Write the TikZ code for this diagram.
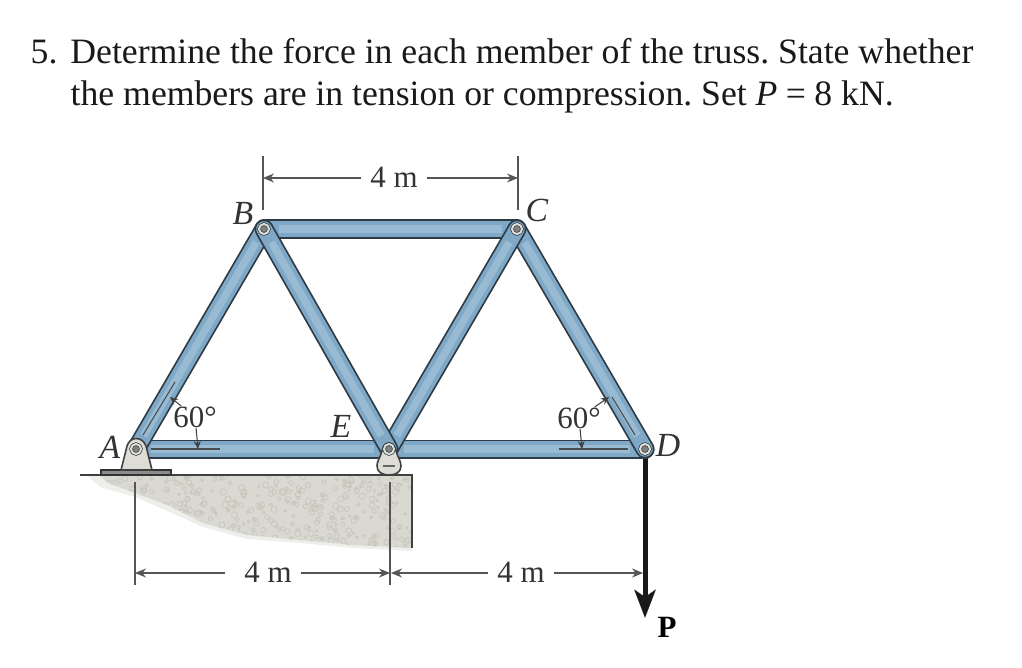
\documentclass[tikz,border=0pt]{standalone}
\usepackage{fontspec}
\setmainfont{Liberation Serif}
\usetikzlibrary{arrows.meta,calc}
\definecolor{memberblue}{HTML}{7FA8C7}
\definecolor{memberlight}{HTML}{98BAD3}
\definecolor{memberdark}{HTML}{2E3B45}
\definecolor{groundgray}{HTML}{D9D9D1}
\definecolor{grounddot}{HTML}{C6C6BC}
\definecolor{supportgray}{HTML}{DDDDD6}
\definecolor{dimgray}{HTML}{555555}
\tikzset{
 title/.style={anchor=base west,inner sep=0pt,font=\fontsize{10.15}{12}\selectfont\frenchspacing,text=black!90},
 textlabel/.style={inner sep=0pt,font=\fontsize{8.8}{10}\selectfont,text=black!80},
 letterlabel/.style={inner sep=0pt,font=\fontsize{9.6}{10}\selectfont,text=black!80},
 dimline/.style={draw=dimgray,line width=0.3pt,-{Stealth[length=1.1mm,width=0.9mm]}},
 extline/.style={draw=dimgray,line width=0.3pt},
 anglemark/.style={draw=black!75,line width=0.3pt,-{Stealth[length=0.8mm,width=0.7mm]}},
 pin/.style={circle,draw=memberdark,double=supportgray,double distance=0.2mm,fill=black!50,line width=0.2pt,minimum size=1mm,inner sep=0pt},
 memberedge/.style={draw=memberdark,line width=1.9mm,line cap=round},
 memberfill/.style={draw=memberblue,line width=1.55mm,line cap=round},
 membershine/.style={draw=memberlight,line width=0.75mm}
}
\newcommand{\member}[2]{
 \draw[memberedge] (#1) -- (#2);
 \draw[memberfill] (#1) -- (#2);
 \draw[membershine] ($(#1)!0.06!(#2)$) -- ($(#1)!0.94!(#2)$);
}
\begin{document}
\begin{tikzpicture}[x=0.01cm,y=-0.01cm]
 \useasboundingbox (0,0) rectangle (1022,667);

 \node[title] (line1) at (30,64) {5.\hspace{1.15pt} Determine the force in each member of the truss. State whether};
 \node[title] (line2) at (70,106) {the members are in tension or compression. Set \textit{P}\hspace{2.4pt}=\hspace{2.4pt}8 kN.};

 \coordinate (A) at (136,449);
 \coordinate (B) at (264,229);
 \coordinate (C) at (517,229);
 \coordinate (D) at (645,449);
 \coordinate (E) at (389,449);

 % ground
 \fill[groundgray!45] (88,476) -- (412,476) -- (412,551) -- (353,548) -- (300,543) -- (247,539) -- (203,527) -- (165,510) -- (135,497) -- (100,487) -- cycle;
 \begin{scope}
  \clip (100,476) -- (412,476) -- (412,548) -- (353,545) -- (300,540) -- (247,535) -- (203,523) -- (170,506) -- (135,493) -- (108,483) -- cycle;
  \fill[groundgray] (80,470) rectangle (420,560);
  \pgfmathsetseed{5}
  \foreach \i in {1,...,420} {
   \pgfmathsetmacro{\px}{100+312*rnd}
   \pgfmathsetmacro{\py}{476+74*rnd}
   \pgfmathsetmacro{\pr}{1+2.2*rnd}
   \draw[grounddot,line width=0.2pt] (\px,\py) circle (\pr);
  }
 \end{scope}
 \coordinate (groundL) at (80,475);
 \coordinate (groundR) at (412,475);
 \coordinate (wallB) at (412,548);
 \draw[black!75,line width=0.5pt] (groundL) -- (groundR) -- (wallB);
 \draw[fill=black!45,draw=black!80,line width=0.4pt] (101,470) rectangle (171,475);

 % load
 \coordinate (tipP) at (645,618);
 \draw[line width=0.5mm,draw=black!90,-{Stealth[length=2.8mm,width=2.1mm,inset=0.7mm]}] (D) -- (tipP);

 % truss
 \member{A}{E}
 \member{E}{D}
 \member{B}{C}
 \member{A}{B}
 \member{C}{D}
 \member{C}{E}
 \member{B}{E}

 % supports
 \draw[fill=supportgray,draw=black!75,line width=0.45pt] (121,470) -- (127,446) .. controls (130,436) and (142,436) .. (146,446) -- (152,470) -- cycle;
 \draw[fill=supportgray,draw=black!75,line width=0.45pt] (389,443) .. controls (384,443) and (383,447) .. (382,451) .. controls (380,458) and (377,461) .. (377,466) .. controls (377,472) and (382,475) .. (389,475) .. controls (396,475) and (401,472) .. (401,466) .. controls (401,461) and (398,458) .. (396,451) .. controls (395,447) and (394,443) .. (389,443) -- cycle;
 \draw[black!60,line width=0.4pt] (383,466) -- (395,466);

 \foreach \j in {A,B,C,D,E} {
  \node[pin] (pin\j) at (\j) {};
 }

 % angle marks
 \draw[black!70,line width=0.3pt] (143,435) -- (175,382);
 \draw[black!70,line width=0.3pt] (151,449) -- (220,449);
 \draw[black!70,line width=0.3pt] (559,449) -- (628,449);
 \draw[black!70,line width=0.3pt] (635,435) -- (612,397);
 \node[textlabel] (angA) at (195,417) {60\textdegree};
 \node[textlabel] (angD) at (579,418) {60\textdegree};
 \coordinate (markA1) at (170,397);
 \coordinate (markA2) at (198,449);
 \coordinate (markD1) at (609,397);
 \coordinate (markD2) at (582,449);
 \draw[anglemark] (angA) -- (markA1);
 \draw[anglemark] (angA) -- (markA2);
 \draw[anglemark] (angD) -- (markD1);
 \draw[anglemark] (angD) -- (markD2);

 % dimensions
 \coordinate (extA1) at (135,482);
 \coordinate (extA2) at (135,585);
 \coordinate (extE1) at (390,482);
 \coordinate (extE2) at (390,585);
 \coordinate (extB1) at (263,156);
 \coordinate (extB2) at (263,210);
 \coordinate (extC1) at (518,156);
 \coordinate (extC2) at (518,210);
 \draw[extline] (extA1) -- (extA2);
 \draw[extline] (extE1) -- (extE2);
 \draw[extline] (extB1) -- (extB2);
 \draw[extline] (extC1) -- (extC2);

 \node[textlabel,inner xsep=0.09cm] (dimAE) at (268,572) {4 m};
 \node[textlabel,inner xsep=0.09cm] (dimED) at (521,572) {4 m};
 \node[textlabel,inner xsep=0.09cm] (dimBC) at (394,177) {4 m};
 \coordinate (endAE1) at (135,573);
 \coordinate (endAE2) at (390,573);
 \coordinate (endED1) at (391,573);
 \coordinate (endED2) at (643,573);
 \coordinate (endBC1) at (263,178);
 \coordinate (endBC2) at (518,178);
 \draw[dimline,shorten <=1mm] (dimAE.west |- endAE1) -- (endAE1);
 \draw[dimline] (dimAE.east |- endAE2) -- (endAE2);
 \draw[dimline] (dimED.west |- endED1) -- (endED1);
 \draw[dimline] (dimED.east |- endED2) -- (endED2);
 \draw[dimline] (dimBC.west |- endBC1) -- (endBC1);
 \draw[dimline] (dimBC.east |- endBC2) -- (endBC2);

 % labels
 \node[letterlabel] (labA) at (110,447) {\textit{A}};
 \node[letterlabel] (labB) at (243,213) {\textit{B}};
 \node[letterlabel] (labC) at (537,210) {\textit{C}};
 \node[letterlabel] (labD) at (668,445) {\textit{D}};
 \node[letterlabel] (labE) at (341,426) {\textit{E}};
 \node[textlabel,text=black] (labP) at (667,627) {\textbf{P}};
\end{tikzpicture}
\end{document}
